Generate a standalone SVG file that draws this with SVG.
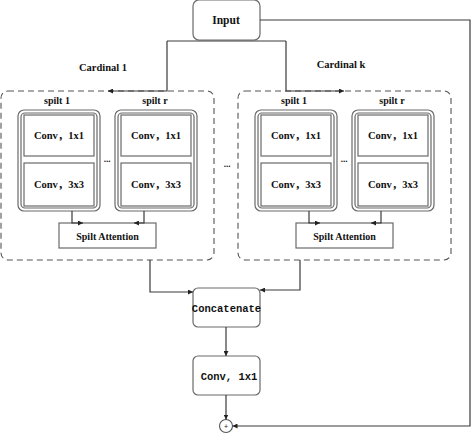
<svg xmlns="http://www.w3.org/2000/svg" width="474" height="434" viewBox="0 0 474 434">
<style>
.ln{fill:none;stroke:#3a3a3a;stroke-width:1.2}
.box{fill:#fff;stroke:#6a6a6a;stroke-width:1.2}
.dash{fill:none;stroke:#555;stroke-width:1.1;stroke-dasharray:6,4}
.ser{font-family:"Liberation Serif","Noto Sans CJK SC",serif;font-weight:bold;fill:#111;text-anchor:middle}
.mono{font-family:"Liberation Mono","Noto Sans CJK SC",monospace;font-weight:bold;fill:#111;text-anchor:middle;font-size:10.5px}
</style>
<defs>
<marker id="ar" viewBox="0 0 6 6" refX="6" refY="3" markerWidth="5" markerHeight="5" orient="auto" markerUnits="userSpaceOnUse">
<path d="M0,0 L6,3 L0,6 z" fill="#222"/>
</marker>
<g id="cardinal">
<rect class="dash" x="1" y="91" width="213" height="169" rx="7"/>
<text class="ser" x="57" y="104" font-size="10">spilt 1</text>
<text class="ser" x="155" y="104" font-size="10">spilt r</text>
<rect class="box" x="18" y="110" width="82" height="101" rx="6"/>
<rect class="box" x="21" y="113" width="76" height="95" rx="4"/>
<rect class="box" x="24" y="115" width="70" height="41"/>
<rect class="box" x="24" y="163" width="70" height="43"/>
<text class="ser" x="59" y="139" font-size="10.5">Conv，1x1</text>
<text class="ser" x="59" y="188" font-size="10.5">Conv，3x3</text>
<rect class="box" x="115" y="110" width="82" height="101" rx="6"/>
<rect class="box" x="118" y="113" width="76" height="95" rx="4"/>
<rect class="box" x="121" y="115" width="70" height="41"/>
<rect class="box" x="121" y="163" width="70" height="43"/>
<text class="ser" x="156" y="139" font-size="10.5">Conv，1x1</text>
<text class="ser" x="156" y="188" font-size="10.5">Conv，3x3</text>
<text class="ser" x="107" y="162" font-size="9" font-weight="normal">...</text>
<rect class="box" x="59" y="223" width="97" height="25"/>
<text class="ser" x="107.5" y="240" font-size="10">Spilt Attention</text>
<path class="ln" d="M72,211 V223 H83" marker-end="url(#ar)"/>
<path class="ln" d="M144,211 V223 H134" marker-end="url(#ar)"/>
</g>
</defs>
<g id="cardinal-1">
<use href="#cardinal"/>
<text class="ser" x="103" y="71" font-size="10.5">Cardinal 1</text>
</g>
<g id="cardinal-k">
<use href="#cardinal" transform="translate(237,0)"/>
<text class="ser" x="341" y="68" font-size="10.5">Cardinal k</text>
</g>
<g id="between-dots">
<text class="ser" x="227" y="167" font-size="9" font-weight="normal">...</text>
</g>
<g id="input">
<rect class="box" x="193" y="0" width="67" height="40" rx="6"/>
<text class="ser" x="226" y="24" font-size="11.5">Input</text>
</g>
<g id="concatenate">
<rect class="box" x="193" y="288" width="67" height="39" rx="5"/>
<text class="mono" x="226.5" y="312">Concatenate</text>
</g>
<g id="conv-out">
<rect class="box" x="193" y="356" width="67" height="39" rx="5"/>
<text class="mono" x="229" y="380">Conv, 1x1</text>
</g>
<g id="sum">
<circle cx="226" cy="426" r="6.5" fill="#fff" stroke="#555" stroke-width="1.1"/>
<text x="226" y="429" font-family="Liberation Sans,sans-serif" font-size="7" text-anchor="middle" fill="#222">+</text>
</g>
<g id="connectors">
<path class="ln" d="M167,41 H286"/>
<path class="ln" d="M167,41 V91 H108" marker-end="url(#ar)"/>
<path class="ln" d="M286,41 V91 H344" marker-end="url(#ar)"/>
<path class="ln" d="M150,260 V292 H193" marker-end="url(#ar)"/>
<path class="ln" d="M300,260 V290 H260" marker-end="url(#ar)"/>
<path class="ln" d="M226,327 V356" marker-end="url(#ar)"/>
<path class="ln" d="M226,395 V419.5" marker-end="url(#ar)"/>
<path class="ln" d="M260,20 H470 V426 H232.5" marker-end="url(#ar)"/>
</g>
</svg>
